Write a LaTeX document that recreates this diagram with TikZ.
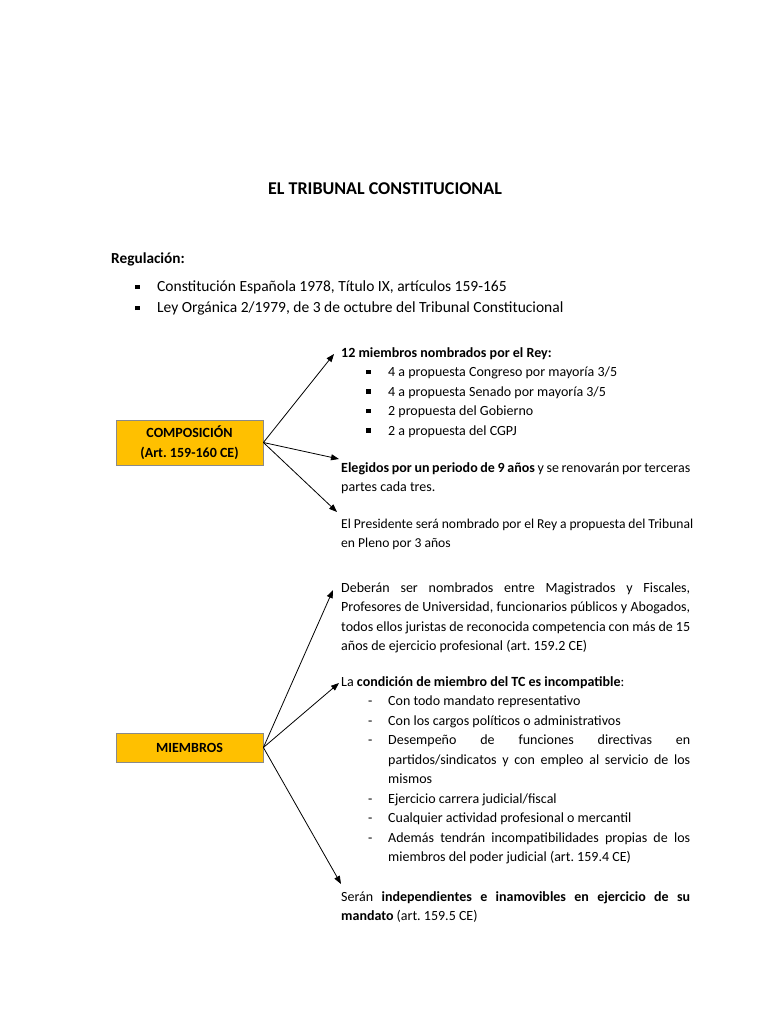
\documentclass[tikz,border=0pt]{standalone}
\usepackage{fontspec}
\setmainfont{Carlito}
\usetikzlibrary{arrows.meta}
\setlength\parindent{0pt}
\frenchspacing
\hyphenpenalty=10000
\exhyphenpenalty=10000
\tolerance=9999
\definecolor{boxyellow}{HTML}{FFC000}
\definecolor{boxline}{HTML}{8A8A8A}
\newcommand\bodyfont{\fontsize{14}{19.5}\selectfont}
\newcommand\sqbul{\rule[2.5pt]{4.5pt}{4.5pt}}
\newcommand\bitem[1]{\par\leavevmode\hangindent=47pt\hangafter=1\hspace*{25pt}\makebox[22pt][l]{\sqbul}#1\par}
\newcommand\ditem[1]{\par\leavevmode\hangindent=47pt\hangafter=1\hspace*{27pt}\makebox[20pt][l]{-}#1\par}
\tikzset{
  headbox/.style={draw=boxline,fill=boxyellow,line width=0.8pt,minimum width=147pt,
    inner sep=0pt,align=center,font=\bodyfont\bfseries},
  txt/.style={anchor=north west,inner sep=0pt,text width=349pt,align=justify,font=\bodyfont},
  arr/.style={line width=0.8pt,-{Triangle[length=8pt,width=6pt]}}
}
\begin{document}
\begin{tikzpicture}[x=1pt,y=-1pt]
\fill[white] (0,0) rectangle (768,1024);
\useasboundingbox (0,0) rectangle (768,1024);
\node[anchor=base,inner sep=0pt,font=\fontsize{18}{20}\selectfont\bfseries] (title) at (385,195) {EL TRIBUNAL CONSTITUCIONAL};
%
\node[anchor=base west,inner sep=0pt,font=\fontsize{15.3}{18}\selectfont\bfseries] (reg) at (111,263) {Regulación:};
\node[txt,text width=560pt,font=\fontsize{15.5}{21}\selectfont] (reglist) at (110,270.3)
  {\bitem{\strut Constitución Española 1978, Título IX, artículos 159-165}
   \bitem{Ley Orgánica 2/1979, de 3 de octubre del Tribunal Constitucional}};
%
\node[headbox,minimum height=45pt] (comp) at (189.5,442.5) {COMPOSICIÓN\\(Art. 159-160 CE)};
\node[headbox,minimum height=29pt] (memb) at (189.5,747.5) {MIEMBROS};
%
\node[txt] (rey) at (341,343.35)
  {\strut\textbf{12 miembros nombrados por el Rey:}
   \bitem{4 a propuesta Congreso por mayoría 3/5}
   \bitem{4 a propuesta Senado por mayoría 3/5}
   \bitem{2 propuesta del Gobierno}
   \bitem{2 a propuesta del CGPJ}};
\node[txt] (periodo) at (341,458.35)
  {\strut\textbf{Elegidos por un periodo de 9 años} y se renovarán por terceras\linebreak partes cada tres.};
\node[txt,text width=352pt,font=\fontsize{13.6}{19.5}\selectfont] (presi) at (341,514.35)
  {\strut El Presidente será nombrado por el Rey a propuesta del Tribunal\linebreak en Pleno por 3 años};
%
\node[txt] (requis) at (341,578.35)
  {\strut Deberán ser nombrados entre Magistrados y Fiscales,\linebreak
   Profesores de Universidad, funcionarios públicos y Abogados,\linebreak
   todos ellos juristas de reconocida competencia con más de 15\linebreak
   años de ejercicio profesional (art. 159.2 CE)};
\node[txt] (incomp) at (341,672.35)
  {\strut La \textbf{condición de miembro del TC es incompatible}:
   \ditem{Con todo mandato representativo}
   \ditem{Con los cargos políticos o administrativos}
   \ditem{Desempeño de funciones directivas en\linebreak partidos/sindicatos y con empleo al servicio de los\linebreak mismos}
   \ditem{Ejercicio carrera judicial/fiscal}
   \ditem{Cualquier actividad profesional o mercantil}
   \ditem{Además tendrán incompatibilidades propias de los\linebreak miembros del poder judicial (art. 159.4 CE)}};
\node[txt] (indep) at (341,887.35)
  {\strut Serán \textbf{independientes e inamovibles en ejercicio de su}\linebreak
   \textbf{mandato} (art. 159.5 CE)};
%
\coordinate (t1) at (334,354);
\coordinate (t2) at (339,459);
\coordinate (t3) at (337,512);
\coordinate (t4) at (333,590);
\coordinate (t5) at (339,683);
\coordinate (t6) at (341,884);
\draw[arr] (comp.east) -- (t1);
\draw[arr] (comp.east) -- (t2);
\draw[arr] (comp.east) -- (t3);
\draw[arr] (memb.east) -- (t4);
\draw[arr] (memb.east) -- (t5);
\draw[arr] (memb.east) -- (t6);
\end{tikzpicture}
\end{document}
